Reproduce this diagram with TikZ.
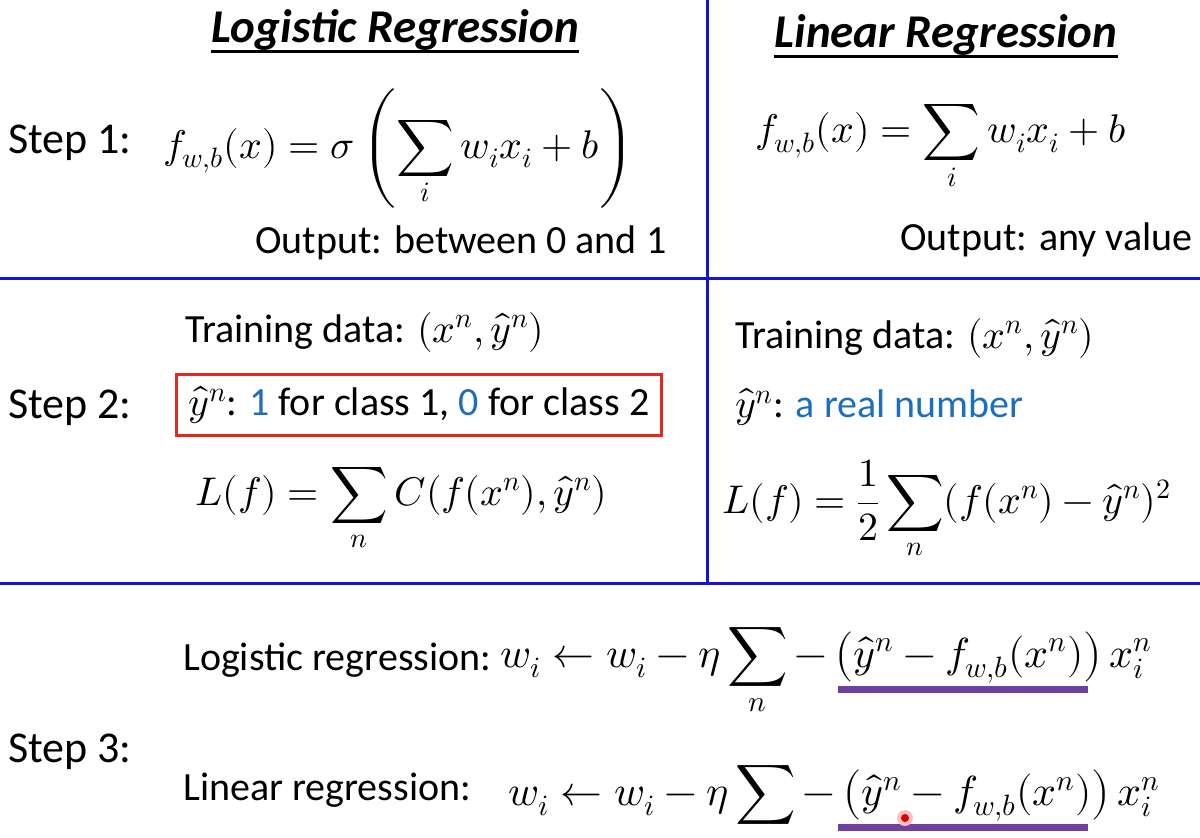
\documentclass[tikz,border=0pt]{standalone}
\usepackage{amsmath}
\usepackage{unicode-math}
\setmainfont{Carlito}
\setmathfont{Latin Modern Math}
\definecolor{lineblue}{RGB}{20,20,210}
\definecolor{txtblue}{RGB}{30,110,190}
\definecolor{boxred}{RGB}{230,40,30}
\definecolor{purp}{RGB}{112,64,160}
\tikzset{
  sep/.style={lineblue,line width=3pt},
  big/.style={font=\fontsize{44}{50}\selectfont,inner sep=0pt},
  mid/.style={font=\fontsize{40}{46}\selectfont,inner sep=0pt},
  mth/.style={font=\fontsize{40}{46}\selectfont,inner sep=0pt},
  mthb/.style={font=\fontsize{42}{48}\selectfont,inner sep=0pt},
  title/.style={font=\fontsize{47}{52}\selectfont\bfseries\itshape,inner sep=0pt},
  ul/.style={purp,line width=7pt}
}
\begin{document}
\begin{tikzpicture}[x=1pt,y=-1pt]
\useasboundingbox (0,0) rectangle (1200,838);
\fill[white] (0,0) rectangle (1200,838);
% separators
\coordinate (vt) at (707,0); \coordinate (vb) at (707,583);
\coordinate (h1l) at (0,278); \coordinate (h1r) at (1200,278);
\coordinate (h2l) at (0,583); \coordinate (h2r) at (1200,583);
\draw[sep] (vt) -- (vb);
\draw[sep] (h1l) -- (h1r);
\draw[sep] (h2l) -- (h2r);
% titles
\node[title] (t1) at (395,30) {Logistic Regression};
\draw[line width=2.5pt] ([yshift=-1pt]t1.south west) -- ([yshift=-1pt]t1.south east);
\node[title] (t2) at (946,35) {Linear Regression};
\draw[line width=2.5pt] ([yshift=-1pt]t2.south west) -- ([yshift=-1pt]t2.south east);
% step labels
\node[big,anchor=west] (s1) at (8,143) {Step 1:};
\node[big,anchor=west] (s2) at (8,408) {Step 2:};
\node[big,anchor=west] (s3) at (8,752) {Step 3:};
% step 1
\node[mth,anchor=west] (f1) at (163,148) {$f_{w,b}(x)=\sigma\left(\displaystyle\sum_i w_ix_i+b\right)$};
\node[mid,anchor=west] (o1) at (255,243) {Output: between 0 and 1};
\node[mth,anchor=west] (f2) at (755,148) {$f_{w,b}(x)=\displaystyle\sum_i w_ix_i+b$};
\node[mid,anchor=west] (o2) at (900,240) {Output: any value};
% step 2
\node[mid,anchor=west] (td1) at (185,332) {Training data: $(x^n,\hat y^n)$};
\node[mid,anchor=west] (td2) at (735,338) {Training data: $(x^n,\hat y^n)$};
\node[mid,anchor=west,draw=boxred,line width=3pt,inner xsep=12pt,inner ysep=12pt] (cls) at (175,405) {$\hat y^n$: \textcolor{txtblue}{1} for class 1, \textcolor{txtblue}{0} for class 2};
\node[mid,anchor=west] (rn) at (735,407) {$\hat y^n$: \textcolor{txtblue}{a real number}};
\node[mth,anchor=west] (L1) at (195,510) {$L(f)=\displaystyle\sum_n C(f(x^n),\hat y^n)$};
\node[mth,anchor=west] (L2) at (722,510) {$L(f)=\dfrac{1}{2}\displaystyle\sum_n (f(x^n)-\hat y^n)^2$};
% step 3
\node[mid,anchor=west] (lg) at (183,660) {Logistic regression:};
\node[mthb,anchor=west] (u1) at (500,672) {$w_i\leftarrow w_i-\eta\displaystyle\sum_n -\left(\hat y^n-f_{w,b}(x^n)\right)x_i^n$};
\node[mid,anchor=west] (lr) at (183,790) {Linear regression:};
\node[mthb,anchor=west] (u2) at (508,795) {$w_i\leftarrow w_i-\eta\displaystyle\sum -\left(\hat y^n-f_{w,b}(x^n)\right)x_i^n$};
\coordinate (a1) at (838,689); \coordinate (b1) at (1088,689);
\coordinate (a2) at (838,827); \coordinate (b2) at (1088,827);
\draw[ul] (a1) -- (b1);
\draw[ul] (a2) -- (b2);
\fill[red!25] (905,818) circle (8);
\fill[red!85!black] (905,818) circle (4);
\end{tikzpicture}
\end{document}
